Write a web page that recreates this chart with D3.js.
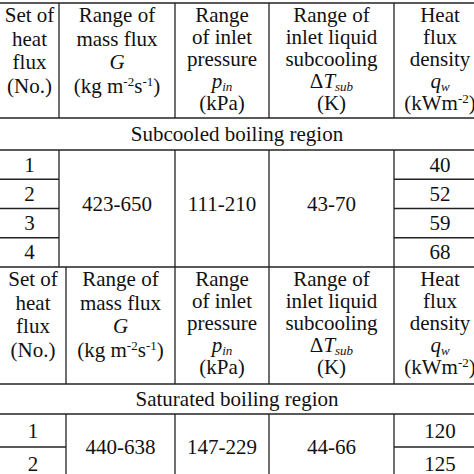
<!DOCTYPE html>
<html><head><meta charset="utf-8">
<script src="https://cdn.jsdelivr.net/npm/d3@7"></script>
<style>body{margin:0;background:#fff}text{font-family:"Liberation Serif","Times New Roman",serif;fill:#111}</style>
</head><body><div id="chart"></div>
<script>
// header lines per column, segments: [text, style] style: n normal, i italic, sup, sub
const headers = [
  [[["Set of","n"]],[["heat","n"]],[["flux","n"]],[["(No.)","n"]]],
  [[["Range of","n"]],[["mass flux","n"]],[["G","i"]],[["(kg m","n"],["-2","sup"],["s","n"],["-1","sup"],[")","n"]]],
  [[["Range","n"]],[["of inlet","n"]],[["pressure","n"]],[["p","i"],["in","sub"]],[["(kPa)","n"]]],
  [[["Range of","n"]],[["inlet liquid","n"]],[["subcooling","n"]],[["\u0394","n"],["T","i"],["sub","sub"]],[["(K)","n"]]],
  [[["Heat","n"]],[["flux","n"]],[["density","n"]],[["q","i"],["w","sub"]],[["(kWm","n"],["-2","sup"],[")","n"]]]
]
const regions = ["Subcooled boiling region", "Saturated boiling region"]
const subSets = ["1","2","3","4"]
const subQ = ["40","52","59","68"]
const subRanges = ["423-650","111-210","43-70"]
const satSets = ["1","2"]
const satQ = ["120","125"]
const satRanges = ["440-638","147-229","44-66"]

const W = 474, H = 474, FS = 21
const svg = d3.select("#chart").append("svg").attr("width", W).attr("height", H)
const line = (x1,y1,x2,y2) => svg.append("line").attr("x1",x1).attr("y1",y1).attr("x2",x2).attr("y2",y2)
  .attr("stroke","#222").attr("stroke-width",1.3)

function header(xs, y0, y1) {
  headers.forEach((h, c) => {
    const cx = (xs[c] + xs[c+1]) / 2 + (c == 4 ? 6 : 0)
    const top = y0 + 19
    h.forEach((ln, i) => {
      const t = svg.append("text").attr("x", cx).attr("y", top + i * (c < 2 ? 23.5 : 22)).attr("text-anchor","middle").attr("font-size",FS)
      ln.forEach(([s, st]) => {
        const ts = t.append("tspan").text(s)
        if (st == "i") ts.attr("font-style","italic")
        if (st == "sup") ts.attr("font-size",13).attr("baseline-shift","super")
        if (st == "sub") ts.attr("font-size",13).attr("font-style","italic").attr("baseline-shift","-3")
      })
    })
  })
  xs.slice(1, -1).forEach(x => line(x, y0, x, y1))
  line(0, y1, W, y1)
}

function block(xs, rowY, sets, q, ranges) {
  const yr = d3.scaleBand().domain(sets).range(rowY)
  sets.forEach(s => {
    svg.append("text").attr("x",(xs[0]+xs[1])/2).attr("y",yr(s)+yr.bandwidth()/2+7).attr("text-anchor","middle").attr("font-size",FS).text(s)
  })
  q.forEach((v,i) => {
    svg.append("text").attr("x",(xs[4]+xs[5])/2+6).attr("y",yr(sets[i])+yr.bandwidth()/2+7).attr("text-anchor","middle").attr("font-size",FS).text(v)
  })
  sets.slice(1).forEach(s => { line(0, yr(s), xs[1], yr(s)); line(xs[4], yr(s), W, yr(s)) })
  ranges.forEach((r,i) => {
    svg.append("text").attr("x",(xs[i+1]+xs[i+2])/2).attr("y",(rowY[0]+rowY[1])/2+(sets.length > 2 ? 2 : 7)).attr("text-anchor","middle").attr("font-size",FS).text(r)
  })
  xs.slice(1,-1).forEach(x => line(x, rowY[0], x, rowY[1]))
  line(0, rowY[0], W, rowY[0])
  line(0, rowY[1], W, rowY[1])
}

const xsTop = [0, 59, 175, 269, 394, 474]
const xsBot = [0, 66, 175, 269, 394, 474]
line(0, 3, W, 3)
header(xsTop, 3, 118)
svg.append("text").attr("x", 237).attr("y", 141).attr("text-anchor","middle").attr("font-size",FS).text(regions[0])
block(xsTop, [150, 267], subSets, subQ, subRanges)
header(xsBot, 267, 384)
svg.append("text").attr("x", 237).attr("y", 406).attr("text-anchor","middle").attr("font-size",FS).text(regions[1])
block(xsBot, [414, 480], satSets, satQ, satRanges)
</script></body></html>
